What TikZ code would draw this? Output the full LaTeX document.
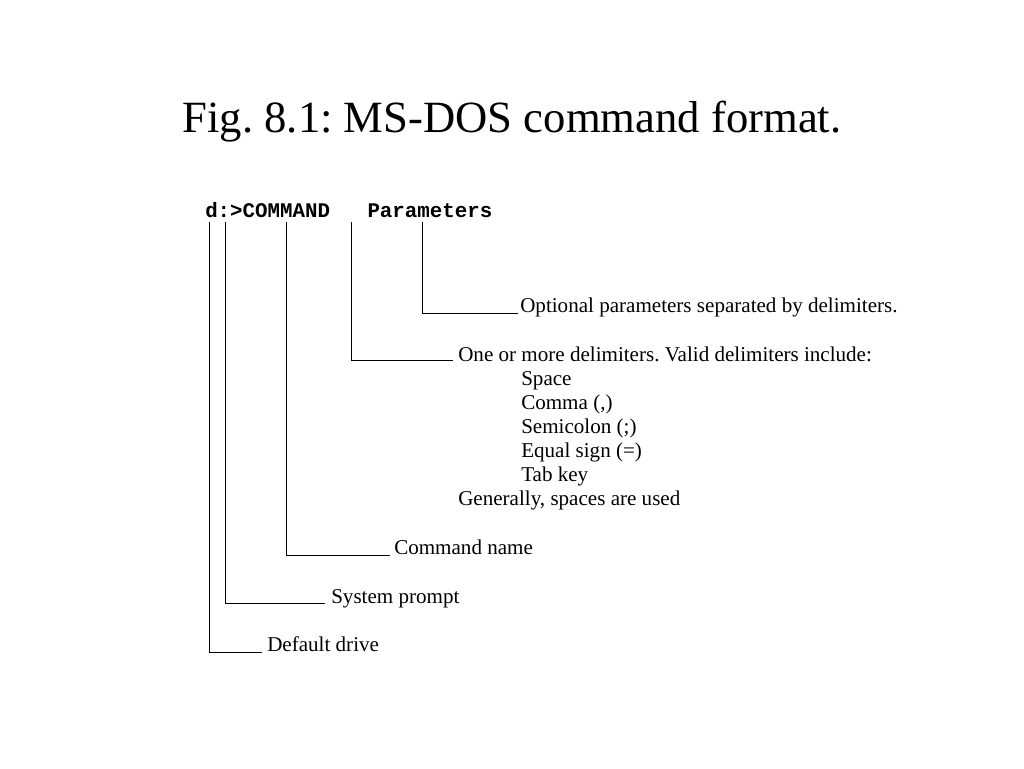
\documentclass[tikz,border=0pt]{standalone}
\usepackage{fontspec}
\setmainfont{Liberation Serif}
\setmonofont{Liberation Mono}
\frenchspacing
\begin{document}
\begin{tikzpicture}[x=0.75pt,y=-0.75pt,
  lbl/.style={anchor=base west,inner sep=0pt,font=\fontsize{15.8}{18}\selectfont},
  ln/.style={line width=0.6pt,black}]
\useasboundingbox (0,0) rectangle (1024,768);
\node[anchor=base,inner sep=0pt,font=\fontsize{33.5}{36}\selectfont] (title) at (512,132) {Fig. 8.1: MS-DOS command format.};
\node[anchor=base west,inner sep=0pt,font=\ttfamily\bfseries\fontsize{15.6}{18}\selectfont] (cmd) at (205,217) {d:>COMMAND\ \ \ Parameters};
% vertical drops
\coordinate (v1) at (209,222); \coordinate (h1) at (209,652); \coordinate (e1) at (262,652);
\coordinate (v2) at (225,222); \coordinate (h2) at (225,603); \coordinate (e2) at (325,603);
\coordinate (v3) at (286,222); \coordinate (h3) at (286,555); \coordinate (e3) at (390,555);
\coordinate (v4) at (351,222); \coordinate (h4) at (351,360); \coordinate (e4) at (453,360);
\coordinate (v5) at (422,222); \coordinate (h5) at (422,313); \coordinate (e5) at (518,313);
\foreach \i in {1,...,5} \draw[ln] (v\i) -- (h\i) -- (e\i);
\node[lbl] (t5) at (520,312) {Optional parameters separated by delimiters.};
\node[lbl] (t4) at (458,361) {One or more delimiters. Valid delimiters include:};
\node[lbl] (d1) at (521,385) {Space};
\node[lbl] (d2) at (521,409) {Comma (,)};
\node[lbl] (d3) at (521,433) {Semicolon (;)};
\node[lbl] (d4) at (521,457) {Equal sign (=)};
\node[lbl] (d5) at (521,481) {Tab key};
\node[lbl] (g) at (458,505) {Generally, spaces are used};
\node[lbl] (t3) at (394,554) {Command name};
\node[lbl] (t2) at (331,603) {System prompt};
\node[lbl] (t1) at (267,651) {Default drive};
\end{tikzpicture}
\end{document}
